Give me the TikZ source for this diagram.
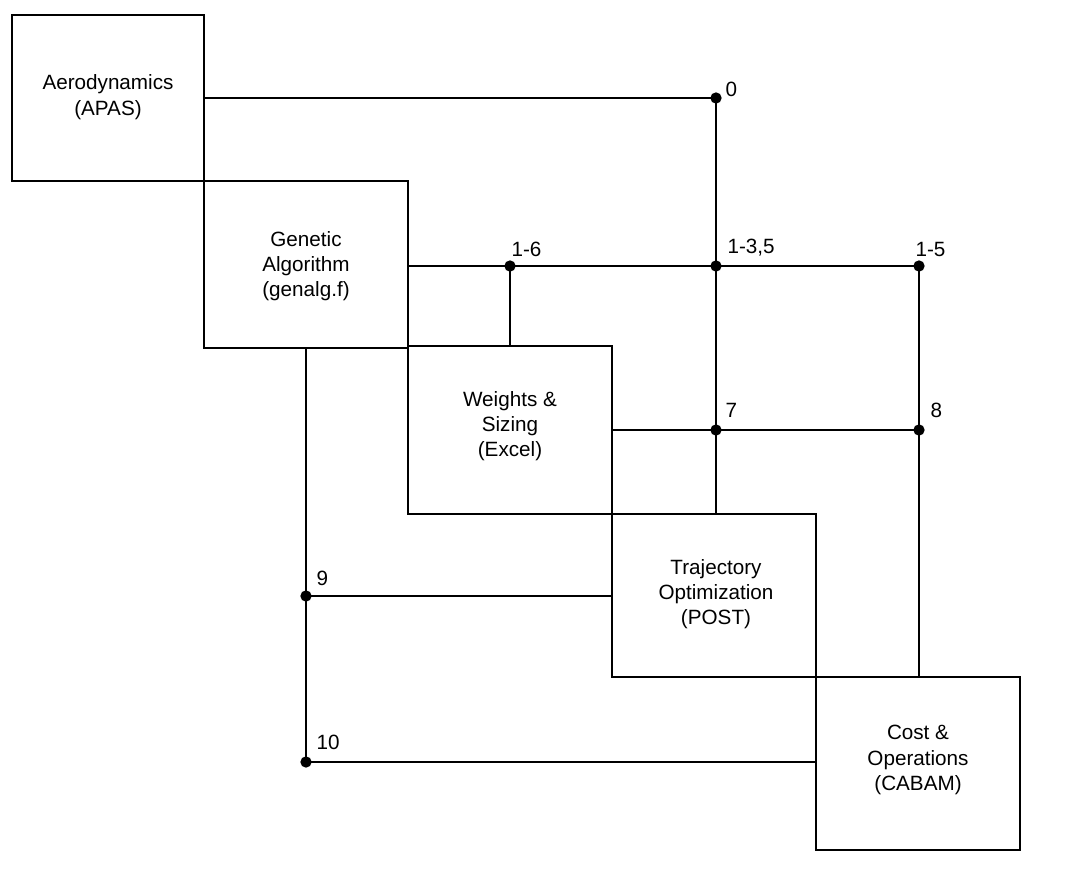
\documentclass[tikz,border=0pt]{standalone}
\usepackage{fontspec}
\setmainfont{Liberation Sans}
\begin{document}
\begin{tikzpicture}[x=0.75pt,y=-0.75pt,
  box/.style={inner sep=0pt,align=center,font=\fontsize{15.5}{19}\selectfont},
  line/.style={draw,line width=1pt},
  dot/.style={circle,fill,inner sep=0pt,minimum size=8.5pt},
  lab/.style={anchor=south west,inner sep=1pt,font=\fontsize{15.5}{19}\selectfont}]
 \useasboundingbox (0,0) rectangle (1081,874);
 % boxes
 \draw[line] (12,15) rectangle (204,181);
 \node[box] (aero) at (108,97) {Aerodynamics\\(APAS)};
 \draw[line] (204,181) rectangle (408,348);
 \node[box] (gen) at (306,266) {Genetic\\Algorithm\\(genalg.f)};
 \draw[line] (408,346) rectangle (612,514);
 \node[box] (wgt) at (510,426) {Weights \&\\Sizing\\(Excel)};
 \draw[line] (612,514) rectangle (816,677);
 \node[box] (traj) at (716,594) {Trajectory\\Optimization\\(POST)};
 \draw[line] (816,677) rectangle (1020,850);
 \node[box] (cost) at (918,760) {Cost \&\\Operations\\(CABAM)};
 % junctions
 \node[dot] (d0) at (716,98) {};
 \node[dot] (d16) at (510,266) {};
 \node[dot] (d135) at (716,266) {};
 \node[dot] (d15) at (919,266) {};
 \node[dot] (d7) at (716,430) {};
 \node[dot] (d8) at (919,430) {};
 \node[dot] (d9) at (306,596) {};
 \node[dot] (d10) at (306,762) {};
 % connectors
 \draw[line] (204,98) -- (d0.center) -- (716,514);
 \draw[line] (408,266) -- (d15.center) -- (919,677);
 \draw[line] (d16.center) -- (510,346);
 \draw[line] (612,430) -- (d8.center);
 \draw[line] (306,348) -- (d10.center) -- (816,762);
 \draw[line] (d9.center) -- (612,596);
 % labels
 \node[lab] at (724,98) {0};
 \node[lab] at (510,258) {1-6};
 \node[lab] at (726,258) {1-3,5};
 \node[lab] at (914,258) {1-5};
 \node[lab] at (724,419) {7};
 \node[lab] at (929,419) {8};
 \node[lab] at (315,587) {9};
 \node[lab] at (315,751) {10};
\end{tikzpicture}
\end{document}
